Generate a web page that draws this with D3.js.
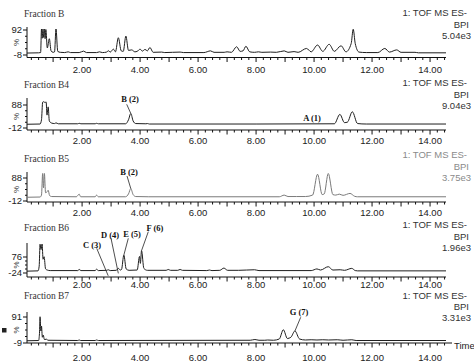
<!DOCTYPE html>
<html><head><meta charset="utf-8">
<script src="https://cdn.jsdelivr.net/npm/d3@7"></script>
<style>body{margin:0;background:#fff} svg{display:block}</style>
</head><body><svg id="c" width="474" height="362"></svg>
<script>
// ---------------- DATA ----------------
const titles = ["Fraction B", "Fraction B4", "Fraction B5", "Fraction B6", "Fraction B7"];
const detector = ["1: TOF MS ES-", "BPI"];
const scaleLabels = ["5.04e3", "9.04e3", "3.75e3", "1.96e3", "3.31e3"];
const yTickLabels = [[92, -8], [88, -12], [88, -12], [76, -24], [91, -9]];
const xTickValues = [2, 4, 6, 8, 10, 12, 14];
const xTickLabels = ["2.00", "4.00", "6.00", "8.00", "10.00", "12.00", "14.00"];

// Fraction B  (time min, relative intensity %)
const tB = [0.10,0.50,0.57,0.60,0.625,0.65,0.675,0.70,0.725,0.75,0.80,0.87,0.93,1.00,1.05,1.10,1.16,1.25,1.40,1.52,1.60,1.90,2.05,2.15,2.50,2.60,2.70,2.85,2.90,2.97,3.08,3.15,3.25,3.35,3.42,3.51,3.60,3.71,3.82,3.90,4.00,4.08,4.17,4.25,4.34,4.45,4.74,4.85,5.38,5.50,6.20,6.43,6.55,6.90,7.00,7.15,7.33,7.45,7.55,7.65,7.78,7.95,8.08,8.20,8.50,8.70,8.97,9.10,9.31,9.45,9.74,9.90,10.12,10.30,10.52,10.70,10.93,11.10,11.28,11.35,11.42,11.55,11.80,12.20,12.44,12.60,12.85,13.00,13.48,13.60,14.55];
const iB = [1,2,3,100,62,100,65,100,60,98,22,60,10,4,6,100,8,4,3,6,3,3,9,3,3,6,3,5,11,5,17,6,64,10,8,71,12,14,6,8,17,9,16,10,24,4,5,3,5,3,3,10,4,4,6,4,27,8,10,29,6,4,6,4,5,4,10,4,7,4,20,6,34,8,37,8,31,6,40,99,40,5,3,3,20,5,14,4,4,2,2];

// Fraction B4
const tB4 = [0.10,0.55,0.60,0.64,0.68,0.72,0.76,0.79,0.83,0.87,0.95,1.05,1.10,1.18,1.85,1.90,1.96,2.45,2.50,2.56,3.50,3.60,3.68,3.76,3.85,4.20,4.26,4.32,8.00,10.70,10.89,11.05,11.15,11.32,11.50,11.80,14.55];
const iB4 = [1,2,20,95,97,93,96,40,75,15,6,4,7,3,3,5,3,3,5,3,3,20,47,15,4,3,4,2,2,3,43,8,10,54,4,2,2];

// Fraction B5
const tB5 = [0.10,0.55,0.60,0.64,0.67,0.70,0.74,0.80,0.83,0.88,0.95,1.80,1.90,1.95,2.45,2.50,2.56,3.50,3.60,3.68,3.76,3.85,4.30,8.80,8.97,9.10,9.40,9.70,9.95,10.12,10.28,10.35,10.49,10.65,10.75,10.87,11.00,11.24,11.40,11.50,14.55];
const iB5 = [1,2,10,100,40,100,20,25,30,8,4,3,14,3,3,10,3,3,15,37,12,4,3,3,10,4,4,4,10,97,12,15,100,12,10,14,9,17,5,3,3];

// Fraction B6
const tB6 = [0.10,0.48,0.52,0.55,0.585,0.62,0.655,0.69,0.74,0.80,0.90,1.85,1.90,1.96,2.45,2.50,2.56,2.85,2.90,2.97,3.18,3.25,3.32,3.36,3.44,3.52,3.62,3.90,3.98,4.01,4.05,4.13,4.25,4.90,4.97,5.05,5.30,5.38,5.46,6.30,6.39,6.48,6.75,6.89,7.02,7.40,7.95,8.10,9.90,10.10,10.22,10.49,10.65,10.90,11.05,11.30,11.42,11.50,14.55];
const iB6 = [2,3,20,99,80,100,45,54,10,6,4,4,8,4,4,9,4,5,7,4,5,12,6,8,60,10,5,6,55,30,76,12,5,5,8,5,5,8,5,4,6,4,5,13,5,5,7,4,4,10,6,18,6,7,5,12,4,3,3];

// Fraction B7
const tB7 = [0.10,0.50,0.53,0.55,0.58,0.60,0.63,0.66,0.70,0.78,0.82,1.85,1.90,1.95,2.45,2.50,2.56,7.80,7.96,8.10,8.30,8.40,8.60,8.80,8.94,9.08,9.20,9.34,9.50,9.70,9.90,10.10,10.30,10.50,10.80,11.00,11.30,11.45,14.55];
const iB7 = [1,2,30,97,40,60,15,24,6,7,3,2,4,2,2,4,2,3,6,3,3,4,3,8,45,10,15,40,8,4,5,4,5,4,5,3,5,2,2];

const traceTimes = [tB, tB4, tB5, tB6, tB7];
const traceInts = [iB, iB4, iB5, iB6, iB7];

// peak annotations
const annPanel = [1, 1, 2, 3, 3, 3, 3, 4];
const annText  = ["B (2)", "A (1)", "B (2)", "C (3)", "D (4)", "E (5)", "F (6)", "G (7)"];
const annTime  = [3.68, null, 3.68, 2.90, 3.25, 3.44, 4.05, 9.34];

// ---------------- LAYOUT ----------------
const L = [
  {title:14, base:53.3, top:29,  axis:57.5, lab:70,  yl:[30,55],   axTop:27,  right:[13,25,36]},
  {title:85, base:124.5,top:101, axis:130,  lab:141, yl:[105,128], axTop:98,  right:[83,95,106]},
  {title:159,base:197.5,top:173.5,axis:202, lab:213, yl:[178,201], axTop:172, right:[155,167,178]},
  {title:228,base:271.7,top:244, axis:277,  lab:285, yl:[257,273], axTop:243, right:[225,237,248]},
  {title:296,base:341,  top:316, axis:343,  lab:358, yl:[317,343], axTop:312, right:[296,307,318]}
];
// text centre x, y ; leader start x, y ; gap above apex
const annLayout = [
  [130,99, 126.7,104.3, 0],
  [312,118, null,null, 0],
  [129,172, 127,176, 0],
  [92,245, 96.7,248.3, 6],
  [110,235, 111,238.3, 5],
  [132,234, 128.3,238.3, 0],
  [155,228, 148.3,231.7, 0],
  [299,312, 300.7,317.3, 0]
];

const NARROW = "'Liberation Sans Narrow','Liberation Sans',Arial,sans-serif";
const SERIF = "'Liberation Serif','Times New Roman',serif";
const svg = d3.select("#c");
const x = d3.scaleLinear().domain([0.1, 14.55]).range([27, 446]);
const minor = d3.range(0.25, 14.51, 0.25);

L.forEach((p, i) => {
  const g = svg.append("g");
  const gray = i === 2;
  const traceCol = gray ? "#7a7a7a" : "#1e1e1e";
  const y = d3.scaleLinear().domain([0, 100]).range([p.base, p.top]);
  const yAx = d3.scaleLinear().domain(yTickLabels[i].slice().reverse()).range([p.yl[1], p.yl[0]]);

  // title
  g.append("text").attr("x", 24).attr("y", p.title).attr("dy", "0.35em")
    .attr("font-family", SERIF).attr("font-size", 9.5).attr("fill", "#333").text(titles[i]);

  // right labels
  const rt = [detector[0], detector[1], scaleLabels[i]];
  const rx = [467, 469, 471];
  rt.forEach((s, k) => {
    g.append("text").attr("x", rx[k]).attr("y", p.right[k]).attr("dy", "0.35em")
      .attr("text-anchor", "end").attr("font-family", NARROW).attr("font-size", 9.5)
      .attr("fill", gray ? "#8a8a8a" : "#333").text(s);
  });

  // y axis
  g.append("line").attr("x1", 27).attr("x2", 27).attr("y1", p.axTop).attr("y2", p.axis)
    .attr("stroke", "#111").attr("stroke-width", 1);
  const [hi, lo] = yTickLabels[i];
  d3.range(0, 5).forEach(k => {
    const v = lo + (hi - lo) * k / 4;
    const yy = yAx(v);
    g.append("line").attr("x1", k % 4 === 0 ? 23 : 25).attr("x2", 27).attr("y1", yy).attr("y2", yy)
      .attr("stroke", "#111");
  });
  [hi, lo].forEach(v => {
    g.append("text").attr("x", 22).attr("y", yAx(v)).attr("dy", "0.35em").attr("text-anchor", "end")
      .attr("font-family", NARROW).attr("font-size", 9.5).attr("fill", "#222").text(v);
  });
  g.append("text").attr("transform", `translate(16,${(p.yl[0] + p.yl[1]) / 2}) rotate(-90)`)
    .attr("dy", "0.35em").attr("text-anchor", "middle").attr("font-family", NARROW)
    .attr("font-size", 8).attr("fill", "#333").text("%");

  // x axis
  const xEnd = i === 4 ? 452 : 446;
  g.append("line").attr("x1", 27).attr("x2", xEnd).attr("y1", p.axis).attr("y2", p.axis)
    .attr("stroke", "#111").attr("stroke-width", 1);
  minor.forEach(t => {
    const isMaj = Math.abs(t - Math.round(t)) < 1e-6;
    g.append("line").attr("x1", x(t)).attr("x2", x(t)).attr("y1", p.axis)
      .attr("y2", p.axis + (isMaj ? 4.5 : 2.5)).attr("stroke", "#111");
  });
  xTickValues.forEach((t, k) => {
    g.append("text").attr("x", x(t)).attr("y", p.lab).attr("dy", "0.35em").attr("text-anchor", "middle")
      .attr("font-family", NARROW).attr("font-size", 9.5).attr("fill", "#222").text(xTickLabels[k]);
  });
  if (i === 4) {
    g.append("text").attr("x", 454).attr("y", 346).attr("dy", "0.35em")
      .attr("font-family", NARROW).attr("font-size", 9.5).attr("fill", "#222").text("Time");
    g.append("rect").attr("x", 2).attr("y", 328).attr("width", 4.5).attr("height", 4.5).attr("fill", "#222");
  }

  // trace
  const pts = traceTimes[i].map((t, k) => [t, traceInts[i][k]]);
  g.append("path")
    .attr("d", d3.line().x(d => x(d[0])).y(d => y(d[1])).curve(d3.curveMonotoneX)(pts))
    .attr("fill", "none").attr("stroke", traceCol).attr("stroke-width", 1);

  // annotations
  annPanel.forEach((pi, a) => {
    if (pi !== i) return;
    const [tx, ty, lx, ly, gap] = annLayout[a];
    g.append("text").attr("x", tx).attr("y", ty).attr("dy", "0.35em").attr("text-anchor", "middle")
      .attr("font-family", SERIF).attr("font-weight", "bold").attr("font-size", 8.5)
      .attr("fill", "#111").text(annText[a]);
    if (annTime[a] != null && lx != null) {
      const tt = traceTimes[i];
      let best = 0;
      tt.forEach((t, k) => { if (Math.abs(t - annTime[a]) < Math.abs(tt[best] - annTime[a])) best = k; });
      const ex = x(tt[best]), ey = y(traceInts[i][best]) + gap;
      g.append("line").attr("x1", lx).attr("y1", ly).attr("x2", ex).attr("y2", ey)
        .attr("stroke", "#222").attr("stroke-width", 0.8);
    }
  });
});
</script></body></html>
